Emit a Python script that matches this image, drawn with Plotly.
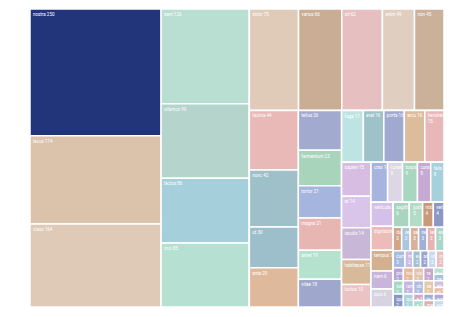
import plotly.graph_objects as go

# ---- data: words and their counts ----
labels = [
    "nostra", "lacus", "class",
    "sem", "ullamco", "lectus", "orci",
    "dolor", "varius", "sit", "enim", "non",
    "lacinia", "nunc", "ut", "ante",
    "tellus", "fermentum", "tortor", "magna", "amet", "vitae",
    "fuga", "erat", "porta", "arcu", "hendrerit",
    "sapien", "at", "iaculis", "habitasse", "luctus",
    "cras", "curae", "turpis", "cursus", "felis",
    "vehicula", "dignissim", "tempus", "nam", "quis",
    "sagittis", "justo", "nisl", "velit",
    "dui", "vel", "sed", "nec", "leo", "est",
    "cum", "mi", "eu", "ad", "id", "in",
    "pro", "sub", "quo",
    "hic", "iam", "qui",
    "vix", "ob", "a", "e",
    "re", "se", "te", "me",
    "tu", "ne", "ab", "et", "nos", "vos",
]
values = [
    250, 174, 164,
    126, 99, 86, 85,
    75, 66, 62, 49, 45,
    44, 42, 30, 29,
    26, 23, 21, 21, 19, 18,
    17, 16, 16, 16, 15,
    15, 14, 14, 11, 10,
    10, 9, 9, 8, 8,
    8, 8, 7, 6, 6,
    6, 5, 4, 4,
    3, 3, 3, 3, 3, 3,
    3, 2, 2, 2, 2, 2,
    2, 2, 2,
    2, 2, 2,
    2, 2, 1, 1,
    2, 2, 1, 1,
    1, 1, 1, 1, 1, 1,
]
# block (layout group) each word belongs to
blocks = (
    ["A"] * 3 + ["B"] * 4 + ["Top"] * 5 + ["C"] * 4 + ["D"] * 6 + ["E"] * 5 +
    ["F"] * 5 + ["G"] * 5 + ["H"] * 5 + ["I"] * 4 + ["J"] * 6 + ["K"] * 6 +
    ["L"] * 3 + ["M"] * 3 + ["N"] * 4 + ["O"] * 4 + ["P"] * 6
)
block_ids = ["A", "B", "R", "Top", "R2", "C", "D", "R3", "E", "R4", "F", "R5",
             "G", "R6", "H", "R7", "I", "J", "K", "R9", "L", "M", "N", "O", "P"]
block_parents = ["", "", "", "R", "R", "R2", "R2", "R2", "R3", "R3", "R4", "R4",
                 "R5", "R5", "R6", "R6", "R7", "R7", "R7", "R7", "R9", "R9", "R9", "R9", "R9"]
colors = [
    "#22357a", "#dbc2aa", "#dfcab8",
    "#b9dfd3", "#b4d4cc", "#a6cfdc", "#b6e0d1",
    "#e0cab8", "#c9ae95", "#e6bfc0", "#e0cfc1", "#cbb09a",
    "#e8b9b7", "#9fbfc9", "#9dbfcb", "#dfb99b",
    "#a2aad0", "#a8d4bc", "#a5b5dd", "#e8b6b2", "#b4e2cf", "#9fa7cc",
    "#bde4e2", "#9dc3c9", "#a1a9d1", "#ddbc9b", "#e8b8b8",
    "#d7bde1", "#d9c4ea", "#c9b7d7", "#d8b99a", "#ebc3c3",
    "#a7b5de", "#dcd8e3", "#a9d6c1", "#c7aad4", "#a5d0dc",
    "#d5c0ea", "#ebbcb8", "#d3b08f", "#c9b4dc", "#d7d3e0",
    "#a8d4c0", "#b2dcc6", "#c89a78", "#8d97c4",
    "#d5a58a", "#a9c8e0", "#d8b29a", "#a2b0d8", "#e5b3b5", "#abd8c6",
    "#a7bde0", "#cdbbe6", "#a0c2d0", "#9ba6d0", "#c9d9f0", "#e8c0c0",
    "#b8a4d6", "#a8d8c8", "#8a96c6",
    "#e6b89a", "#c4b4e2", "#aad4d8",
    "#e2c4b0", "#b0bce2", "#d4a8c8", "#a9dccb",
    "#c7a7d0", "#e4c8a8", "#9fb0d8", "#d9b1b1",
    "#b6e0d0", "#a4c4e0", "#d0c0e0", "#e6bca6", "#b1a8d8", "#c4dce8",
]
# narrow tiles: label and count on two lines
wrapped = {"hendrerit", "curae", "turpis", "cursus", "felis",
           "sagittis", "justo", "nisl", "velit",
           "dui", "vel", "sed", "nec", "leo", "est",
           "cum", "mi", "eu", "ad", "id", "in",
           "pro", "sub", "quo", "hic", "iam", "qui",
           "vix", "ob", "re", "se"}

ids = block_ids + labels
all_labels = [""] * len(block_ids) + labels
parents = block_parents + blocks
all_values = [0] * len(block_ids) + values
all_colors = ["white"] * len(block_ids) + colors
templates = [""] * len(block_ids) + [
    "%{label}<br>%{value}" if w in wrapped else "%{label} %{value}" for w in labels
]

fig = go.Figure(go.Treemap(
    ids=ids,
    labels=all_labels,
    parents=parents,
    values=all_values,
    branchvalues="remainder",
    sort=False,
    marker=dict(colors=all_colors, line=dict(color="white", width=1.5),
                pad=dict(t=0, l=0, r=0, b=0)),
    texttemplate=templates,
    textposition="top left",
    textfont=dict(family="Roboto", size=4.5, color="white"),
    pathbar=dict(visible=False),
    tiling=dict(pad=0, packing="slice-dice"),
    hoverinfo="label+value",
))
fig.update_layout(
    width=474, height=317,
    margin=dict(l=30, r=30, t=9, b=10),
    paper_bgcolor="white",
    uniformtext=dict(minsize=4.5, mode="show"),
)
fig.write_html("out.html")
